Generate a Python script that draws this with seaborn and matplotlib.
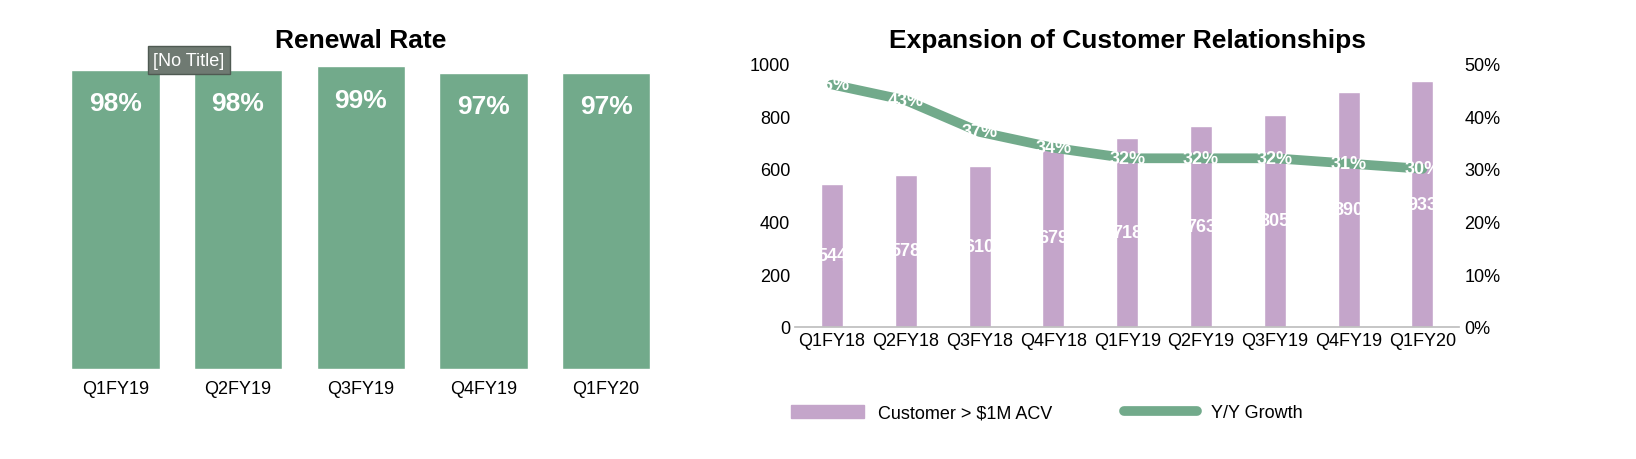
import numpy as np
import pandas as pd
import seaborn as sns
import matplotlib.pyplot as plt
from matplotlib.lines import Line2D
from matplotlib.patches import Patch

renew_q = ["Q1FY19", "Q2FY19", "Q3FY19", "Q4FY19", "Q1FY20"]
renew_rate = [98, 98, 99, 97, 97]

cust_q = ["Q1FY18", "Q2FY18", "Q3FY18", "Q4FY18", "Q1FY19", "Q2FY19", "Q3FY19", "Q4FY19", "Q1FY20"]
cust_count = [544, 578, 610, 679, 718, 763, 805, 890, 933]
yoy_growth = [46, 43, 37, 34, 32, 32, 32, 31, 30]

green = "#72AA8B"
purple = "#C4A5CA"

sns.set_theme(style="white")
plt.rcParams["font.family"] = ["Liberation Sans", "DejaVu Sans"]
plt.rcParams["text.color"] = "black"
plt.rcParams["xtick.color"] = "black"
plt.rcParams["ytick.color"] = "black"

fig = plt.figure(figsize=(16.36, 4.6), dpi=100)
ax1 = fig.add_axes([0.033, 0.195, 0.375, 0.665])
ax2 = fig.add_axes([0.486, 0.287, 0.406, 0.573])

# left: renewal rate
df1 = pd.DataFrame({"q": renew_q, "rate": renew_rate})
sns.barplot(data=df1, x="q", y="rate", color=green, saturation=1, width=0.72, ax=ax1)
ax1.set_ylim(0, 100)
ax1.set_xlim(-0.5, 4.5)
for i, v in enumerate(renew_rate):
    ax1.text(i, v - 11, f"{v}%", ha="center", va="center", color="white",
             fontsize=19, fontweight="bold")
ax1.set_yticks([])
ax1.set_xlabel("")
ax1.set_ylabel("")
ax1.tick_params(axis="x", length=0, labelsize=13, pad=8)
for s in ax1.spines.values():
    s.set_visible(False)
ax1.set_title("Renewal Rate", fontsize=19, fontweight="bold", pad=12)
ax1.text(0.6, 101, "[No Title]", ha="center", va="center", color="white", fontsize=13,
         bbox=dict(boxstyle="square,pad=0.3", fc="#6F7A72", ec="#4F5A52"))

# right: customer relationships
df2 = pd.DataFrame({"q": cust_q, "n": cust_count})
sns.barplot(data=df2, x="q", y="n", color=purple, saturation=1, width=0.3, ax=ax2)
ax2.set_ylim(0, 1000)
ax2.set_xlim(-0.5, 8.5)
ax2.set_yticks(range(0, 1001, 200))
for i, v in enumerate(cust_count):
    ax2.text(i, v * 0.5, str(v), ha="center", va="center",
             color="white", fontsize=13, fontweight="bold")
ax2.set_xlabel("")
ax2.set_ylabel("")
ax2.tick_params(axis="both", length=0, labelsize=13)
for s in ["top", "right", "left"]:
    ax2.spines[s].set_visible(False)
ax2.spines["bottom"].set_color("#BFBFBF")

ax3 = ax2.twinx()
sns.lineplot(x=list(range(len(cust_q))), y=yoy_growth, color=green, linewidth=7, ax=ax3)
ax3.set_xlim(-0.5, 8.5)
ax3.set_ylim(0, 50)
ax3.set_yticks(range(0, 51, 10))
ax3.set_yticklabels([f"{t}%" for t in range(0, 51, 10)])
ax3.tick_params(axis="y", length=0, labelsize=13)
for s in ax3.spines.values():
    s.set_visible(False)
for i, v in enumerate(yoy_growth):
    ax3.text(i, v, f"{v}%", ha="center", va="center", color="white",
             fontsize=13, fontweight="bold")
ax2.set_title("Expansion of Customer Relationships", fontsize=19, fontweight="bold", pad=12)

handles = [Patch(color=purple), Line2D([0], [0], color=green, linewidth=7)]
fig.legend(handles, ["Customer > $1M ACV", "Y/Y Growth"], loc="center",
           bbox_to_anchor=(0.64, 0.1), ncol=2, frameon=False, fontsize=13,
           handlelength=4, columnspacing=4)

fig.savefig("out.png", dpi=100)
